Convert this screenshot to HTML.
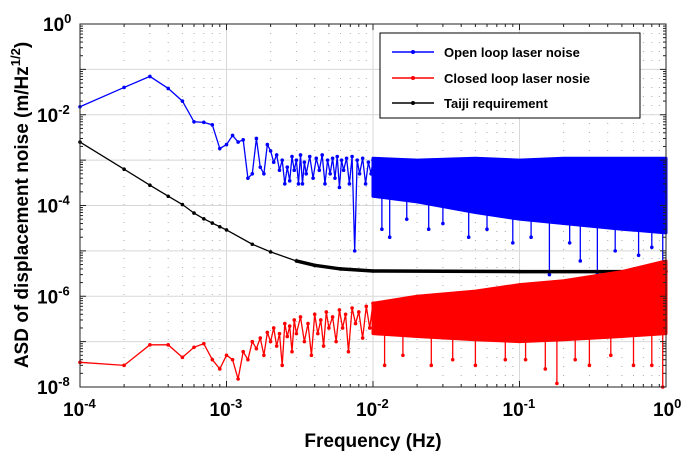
<!DOCTYPE html>
<html><head><meta charset="utf-8"><style>
html,body{margin:0;padding:0;background:#fff;}
svg text{font-family:"Liberation Sans",Arial,sans-serif;font-weight:bold;}
</style></head><body>
<svg id="chart" width="685" height="460" viewBox="0 0 685 460" xmlns="http://www.w3.org/2000/svg">
<g id="grid"></g>
<g id="series"></g>
<g id="axes"></g>
<g id="legend">
  <rect x="380" y="33" width="260" height="85" fill="#fff" stroke="#000" stroke-width="1"/>
  <g>
    <line x1="392" y1="52" x2="434" y2="52" stroke="#00f" stroke-width="1.5"/><circle cx="413" cy="52" r="2" fill="#00f"/>
    <text x="444" y="57" font-size="13">Open loop laser noise</text></g>
  <g>
    <line x1="392" y1="78" x2="434" y2="78" stroke="#f00" stroke-width="1.5"/><circle cx="413" cy="78" r="2" fill="#f00"/>
    <text x="444" y="83" font-size="13">Closed loop laser nosie</text></g>
  <g>
    <line x1="392" y1="103" x2="434" y2="103" stroke="#000" stroke-width="1.5"/><circle cx="413" cy="103" r="2" fill="#000"/>
    <text x="444" y="108" font-size="13">Taiji requirement</text></g>
</g>
<text x="373" y="447" font-size="19" text-anchor="middle">Frequency (Hz)</text>
<text transform="translate(28,205) rotate(-90)" font-size="19" text-anchor="middle">ASD of displacement noise (m/Hz<tspan font-size="13" dy="-8">1/2</tspan><tspan dy="8">)</tspan></text>
</svg>
<script>
// data
const blueF=[1e-4,2e-4,3e-4,4e-4,5e-4,6e-4,7e-4,8e-4,9e-4,1e-3,1.1e-3,1.2e-3,1.3e-3,1.4e-3,1.5e-3,1.6e-3,1.7e-3,1.8e-3,1.9e-3,2e-3,2.1e-3,2.2e-3,2.3e-3,2.4e-3,2.5e-3,2.6e-3,2.7e-3,2.8e-3,2.9e-3,3e-3,3.1e-3,3.2e-3,3.3e-3,3.4e-3,3.5e-3,3.7e-3,3.9e-3,4.1e-3,4.3e-3,4.5e-3,4.7e-3,4.9e-3,5.1e-3,5.3e-3,5.5e-3,5.7e-3,5.9e-3,6.1e-3,6.3e-3,6.6e-3,6.9e-3,7.2e-3,7.5e-3,7.8e-3,8.1e-3,8.5e-3,8.9e-3,9.3e-3,9.7e-3,1e-2];
const blueV=[1.5e-2,4e-2,7e-2,3.8e-2,2e-2,7e-3,6.8e-3,6e-3,1.8e-3,2.2e-3,3.5e-3,2.5e-3,2.8e-3,4e-4,5e-4,3e-3,7e-4,5e-4,2.2e-3,1.6e-3,9e-4,1.3e-3,6e-4,1e-3,3e-4,7e-4,3.5e-4,1.2e-3,6e-4,1e-3,3e-4,1.3e-3,3e-4,9e-4,5e-4,1.2e-3,4e-4,1.1e-3,6e-4,1.3e-3,3e-4,1e-3,5e-4,1.1e-3,4e-4,1.2e-3,2.5e-4,1e-3,6e-4,1.1e-3,3e-4,1.2e-3,1e-5,1e-3,5e-4,1.1e-3,3e-4,9e-4,5e-4,1e-3];
const blueBandF=[1e-2,2e-2,5e-2,1e-1,2e-1,5e-1,1];
const blueHi=[1.1e-3,1e-3,1.1e-3,1e-3,1.1e-3,1.1e-3,1.1e-3];
const blueLo=[1.6e-4,1.2e-4,7e-5,5e-5,4e-5,3e-5,2.5e-5];
const blueSpikeF=[1.15e-2,1.3e-2,1.7e-2,2.4e-2,3e-2,4.5e-2,6e-2,9e-2,1.2e-1,1.6e-1,2.2e-1,2.6e-1,3.4e-1,4.5e-1,6.5e-1,8e-1,9.5e-1];
const blueSpikeV=[3e-5,2e-5,5e-5,3e-5,4e-5,2e-5,3e-5,1.5e-5,2e-5,3e-6,1.5e-5,6e-6,3e-6,1e-5,8e-6,1.2e-5,2e-6];
const redF=[1e-4,2e-4,3e-4,4e-4,5e-4,6e-4,7e-4,8e-4,9e-4,1e-3,1.1e-3,1.2e-3,1.3e-3,1.4e-3,1.5e-3,1.6e-3,1.7e-3,1.8e-3,1.9e-3,2e-3,2.1e-3,2.2e-3,2.3e-3,2.4e-3,2.5e-3,2.6e-3,2.7e-3,2.8e-3,2.9e-3,3e-3,3.2e-3,3.4e-3,3.6e-3,3.8e-3,4e-3,4.2e-3,4.4e-3,4.6e-3,4.8e-3,5e-3,5.3e-3,5.6e-3,5.9e-3,6.2e-3,6.5e-3,6.8e-3,7.2e-3,7.6e-3,8e-3,8.5e-3,9e-3,9.5e-3,1e-2];
const redV=[3.5e-8,3e-8,8.5e-8,8.5e-8,4.5e-8,7.5e-8,9e-8,4e-8,2.5e-8,5e-8,4e-8,1.5e-8,6e-8,4e-8,1e-7,7e-8,1.2e-7,5e-8,1.6e-7,1e-7,2e-7,8e-8,1.5e-7,3e-8,2.5e-7,1.3e-7,2.2e-7,6e-8,3e-7,1.5e-7,3.5e-7,1e-7,2.5e-7,5e-8,4e-7,1.5e-7,3e-7,8e-8,4.5e-7,2e-7,3.5e-7,1e-7,5e-7,2e-7,4e-7,6e-8,5.5e-7,2.5e-7,4.5e-7,1.2e-7,6e-7,2e-7,7e-7];
const redBandF=[1e-2,2e-2,5e-2,1e-1,2e-1,5e-1,1];
const redHi=[7e-7,1e-6,1.3e-6,1.8e-6,2.2e-6,3.5e-6,6e-6];
const redLo=[1.5e-7,1.3e-7,1.1e-7,1e-7,1.1e-7,1.3e-7,1.5e-7];
const redSpikeF=[1.2e-2,1.6e-2,2.5e-2,3.5e-2,5e-2,8e-2,1.1e-1,1.5e-1,1.8e-1,2.4e-1,3e-1,4.2e-1,6e-1,8e-1,9.5e-1];
const redSpikeV=[3e-8,5e-8,3e-8,4e-8,3e-8,4e-8,4e-8,2.5e-8,1.2e-8,4e-8,3e-8,5e-8,3e-8,3e-8,1e-8];
const taijiF=[1e-4,2e-4,3e-4,4e-4,5e-4,6e-4,7e-4,8e-4,9e-4,1e-3,1.5e-3,2e-3,3e-3,4e-3,6e-3,1e-2,1e-1,1];
const taijiV=[2.5e-3,6.3e-4,2.8e-4,1.6e-4,1.05e-4,6.8e-5,5.1e-5,4.1e-5,3.4e-5,2.9e-5,1.4e-5,9.5e-6,6e-6,4.8e-6,4e-6,3.6e-6,3.5e-6,3.5e-6];
const xTickExp=[-4,-3,-2,-1,0];
const yTickExp=[0,-2,-4,-6,-8];

const L=80,R=666,T=24,B=387;
const X=f=>L+(Math.log10(f)+4)/4*(R-L);
const Y=v=>T+(-Math.log10(v))/8*(B-T);
const NS="http://www.w3.org/2000/svg";
function mk(tag,attrs,parent){const e=document.createElementNS(NS,tag);for(const k in attrs)e.setAttribute(k,attrs[k]);parent.appendChild(e);return e;}
const grid=document.getElementById('grid'),series=document.getElementById('series'),axes=document.getElementById('axes');

// grid
for(let d=-4;d<0;d++)for(let m=1;m<10;m++){const x=X(m*Math.pow(10,d));
  const l=mk('line',{x1:x,x2:x,y1:T,y2:B,stroke:m===1?'#d8d8d8':'#aaa','stroke-width':1,'stroke-dasharray':m===1?'':'1,8'},grid);
  
  }
for(let d=-8;d<0;d++){const y=Y(Math.pow(10,d));
  const l=mk('line',{x1:L,x2:R,y1:y,y2:y,stroke:'#d8d8d8','stroke-width':1},grid);
  
  }

function line(F,V,color,name,w){
  const p=mk('polyline',{points:F.map((f,i)=>X(f)+','+Y(V[i])).join(' '),fill:'none',stroke:color,'stroke-width':w||1.3},series);
  
  
  F.forEach((f,i)=>{const c=mk('circle',{cx:X(f),cy:Y(V[i]),r:1.8,fill:color},series);
    
    });
}
function band(F,H,Lo,SF,SV,color,name){
  const pts=F.map((f,i)=>X(f)+','+Y(H[i])).concat(F.slice().reverse().map((f,i)=>X(f)+','+Y(Lo[F.length-1-i])));
  const p=mk('polygon',{points:pts.join(' '),fill:color,stroke:color,'stroke-width':3,'stroke-linejoin':'round'},series);
  
  
  SF.forEach((f,i)=>{let k=0;while(k<F.length-2&&F[k+1]<f)k++;
    const t=(Math.log10(f)-Math.log10(F[k]))/(Math.log10(F[k+1])-Math.log10(F[k]));
    const lo=Math.pow(10,Math.log10(Lo[k])+t*(Math.log10(Lo[k+1])-Math.log10(Lo[k])));
    const s=mk('line',{x1:X(f),x2:X(f),y1:Y(lo),y2:Y(SV[i]),stroke:color,'stroke-width':1.3},series);
    
    
    const c=mk('circle',{cx:X(f),cy:Y(SV[i]),r:1.8,fill:color},series);
    
    });
}
band(blueBandF,blueHi,blueLo,blueSpikeF,blueSpikeV,'#00f','open-loop');
line(blueF,blueV,'#00f','open-loop-line');
line(taijiF,taijiV,'#000','taiji-line',1.3);
const thick=mk('polyline',{points:taijiF.slice(12).map((f,i)=>X(f)+','+Y(taijiV[i+12])).join(' '),fill:'none',stroke:'#000','stroke-width':3.5},series);


band(redBandF,redHi,redLo,redSpikeF,redSpikeV,'#f00','closed-loop');
line(redF,redV,'#f00','closed-loop-line');

// axes box & ticks
const box=mk('rect',{x:L,y:T,width:R-L,height:B-T,fill:'none',stroke:'#222','stroke-width':1},axes);


for(let d=-4;d<0;d++)for(let m=1;m<10;m++){const x=X(m*Math.pow(10,d)),len=m===1?6:3;
  mk('line',{x1:x,x2:x,y1:B,y2:B-len,stroke:'#222'},axes);mk('line',{x1:x,x2:x,y1:T,y2:T+len,stroke:'#222'},axes);}
for(let d=-8;d<0;d++)for(let m=1;m<10;m++){const y=Y(m*Math.pow(10,d)),len=m===1?6:3;
  mk('line',{x1:L,x2:L+len,y1:y,y2:y,stroke:'#222'},axes);mk('line',{x1:R,x2:R-len,y1:y,y2:y,stroke:'#222'},axes);}
xTickExp.forEach(e=>{const t=mk('text',{x:X(Math.pow(10,e))-(e===0?13:17),y:B+29,'font-size':19},axes);
  
  
  t.innerHTML='10<tspan font-size="13" dy="-8">'+(e===0?'0':'-'+(-e))+'</tspan>';});
yTickExp.forEach(e=>{const t=mk('text',{x:e===0?43:37,y:Y(Math.pow(10,e))+7,'font-size':19},axes);
  
  
  t.innerHTML='10<tspan font-size="13" dy="-8">'+(e===0?'0':'-'+(-e))+'</tspan>';});
</script>
</body></html>
